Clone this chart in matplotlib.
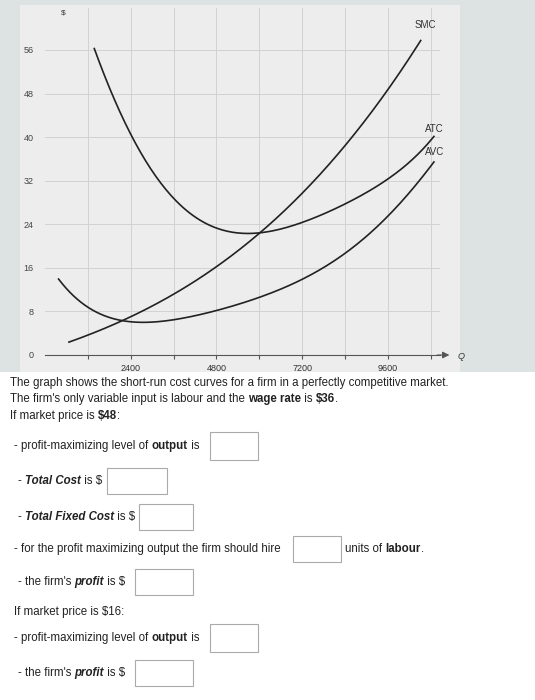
import matplotlib
matplotlib.use("Agg")
import numpy as np
import matplotlib.pyplot as plt
from matplotlib.patches import Rectangle

plt.rcParams["font.family"] = ["Liberation Sans", "DejaVu Sans"]

W, H = 535, 700

# Curve points (Q, $)
atc_q = [1380, 1860, 2520, 3290, 4050, 4900, 6050, 7100, 8240, 9670, 10890]
atc_p = [56.0, 48.7, 38.9, 30.9, 26.0, 23.3, 22.6, 23.9, 27.2, 32.7, 40.1]
avc_q = [380, 1100, 1860, 2710, 4050, 5380, 6520, 7760, 9000, 9950, 10890]
avc_p = [14.1, 8.9, 6.7, 6.4, 7.0, 8.9, 11.9, 16.2, 21.7, 27.8, 35.5]
smc_q = [670, 1520, 2410, 3480, 4810, 5950, 7290, 8520, 9670, 10520]
smc_p = [2.9, 4.0, 6.5, 10.7, 16.8, 22.6, 30.0, 38.9, 49.3, 58.0]
x_ticks = [2400, 4800, 7200, 9600]
y_ticks = [0, 8, 16, 24, 32, 40, 48, 56]


def smooth(q, p, deg):
    # smooth curve through the read points
    q = np.array(q, float)
    c = np.polyfit(q, p, deg)
    qq = np.linspace(q[0], q[-1], 200)
    return qq, np.polyval(c, qq)


fig = plt.figure(figsize=(W / 100, H / 100), dpi=100)
fig.patch.set_facecolor("white")

# photo-like backgrounds
fig.patches.append(Rectangle((0, 1 - 372 / H), 1, 372 / H, transform=fig.transFigure,
                             facecolor="#dde3e3", edgecolor="none", zorder=-3))
fig.patches.append(Rectangle((20 / W, 1 - 372 / H), 440 / W, 367 / H, transform=fig.transFigure,
                             facecolor="#ededed", edgecolor="none", zorder=-2))

ax = fig.add_axes([45 / W, 1 - 355 / H, 395 / W, 347 / H])
ax.set_facecolor("#ededed")
ax.set_xlim(0, 11060)
ax.set_ylim(0, 63.7)
for q in range(1200, 11000, 1200):
    ax.axvline(q, color="#d2d2d2", lw=0.7, zorder=0)
for p in range(8, 64, 8):
    ax.axhline(p, color="#d2d2d2", lw=0.7, zorder=0)
for s in ["top", "right", "left"]:
    ax.spines[s].set_visible(False)
ax.spines["bottom"].set_color("#555555")
ax.set_xticks(range(1200, 11000, 1200))
ax.set_xticklabels([str(q) if q in x_ticks else "" for q in range(1200, 11000, 1200)],
                   fontsize=6.5, color="#333333")
ax.set_yticks(y_ticks)
ax.set_yticklabels([str(v) for v in y_ticks], fontsize=6.5, color="#444444")
ax.tick_params(axis="x", length=3, color="#555555")
ax.tick_params(axis="y", length=0, pad=8)

for q, p, d in [(atc_q, atc_p, 5), (avc_q, avc_p, 5), (smc_q, smc_p, 3)]:
    qq, pp = smooth(q, p, d)
    ax.plot(qq, pp, color="#222222", lw=1.2)
ax.text(10350, 60, "SMC", fontsize=7, color="#333333")
ax.text(10650, 41, "ATC", fontsize=7, color="#333333")
ax.text(10650, 36.7, "AVC", fontsize=7, color="#333333")
ax.text(450, 62.5, "$", fontsize=6, color="#333333")
ax.annotate("", xy=(11400, 0), xytext=(10900, 0), annotation_clip=False,
            arrowprops=dict(arrowstyle="-|>", color="#555555", lw=0.8))
ax.text(11550, -0.8, "Q", fontsize=6.5, style="italic", color="#333333", clip_on=False)

# text block below the chart
fig.canvas.draw()
renderer = fig.canvas.get_renderer()


def line(x, y, parts, size=8.3):
    """parts: list of (text, weight, style); x, y in pixel coords from top-left"""
    cx = x
    for txt, wt, st in parts:
        t = fig.text(cx / W, 1 - y / H, txt, fontsize=size, fontweight=wt, style=st,
                     va="center", ha="left", color="#222222")
        bb = t.get_window_extent(renderer)
        cx += bb.width
    return cx


def box(x0, x1, yc, h=28):
    fig.patches.append(Rectangle((x0 / W, 1 - (yc + h / 2) / H), (x1 - x0) / W, h / H,
                                 transform=fig.transFigure, facecolor="white",
                                 edgecolor="#aaaaaa", lw=0.8))


N, B = "normal", "bold"
line(10, 383, [("The graph shows the short-run cost curves for a firm in a perfectly competitive market.", N, "normal")])
line(10, 399, [("The firm's only variable input is labour and the ", N, "normal"), ("wage rate", B, "normal"),
               (" is ", N, "normal"), ("$36", B, "normal"), (".", N, "normal")])
line(10, 416, [("If market price is ", N, "normal"), ("$48", B, "normal"), (":", N, "normal")])
line(14, 446, [("- profit-maximizing level of ", N, "normal"), ("output", B, "normal"), (" is", N, "normal")])
box(210, 258, 446)
line(18, 481, [("- ", N, "normal"), ("Total Cost", B, "italic"), (" is $", N, "normal")])
box(107, 167, 481, 26)
line(18, 517, [("- ", N, "normal"), ("Total Fixed Cost", B, "italic"), (" is $", N, "normal")])
box(139, 193, 517, 26)
line(14, 549, [("- for the profit maximizing output the firm should hire", N, "normal")])
box(293, 341, 549, 26)
line(345, 549, [("units of ", N, "normal"), ("labour", B, "normal"), (".", N, "normal")])
line(18, 582, [("- the firm's ", N, "normal"), ("profit", B, "italic"), (" is $", N, "normal")])
box(135, 193, 582, 26)
line(14, 612, [("If market price is $16:", N, "normal")])
line(14, 638, [("- profit-maximizing level of ", N, "normal"), ("output", B, "normal"), (" is", N, "normal")])
box(210, 258, 638)
line(18, 673, [("- the firm's ", N, "normal"), ("profit", B, "italic"), (" is $", N, "normal")])
box(135, 193, 673, 26)

fig.savefig("out.png", dpi=100)
